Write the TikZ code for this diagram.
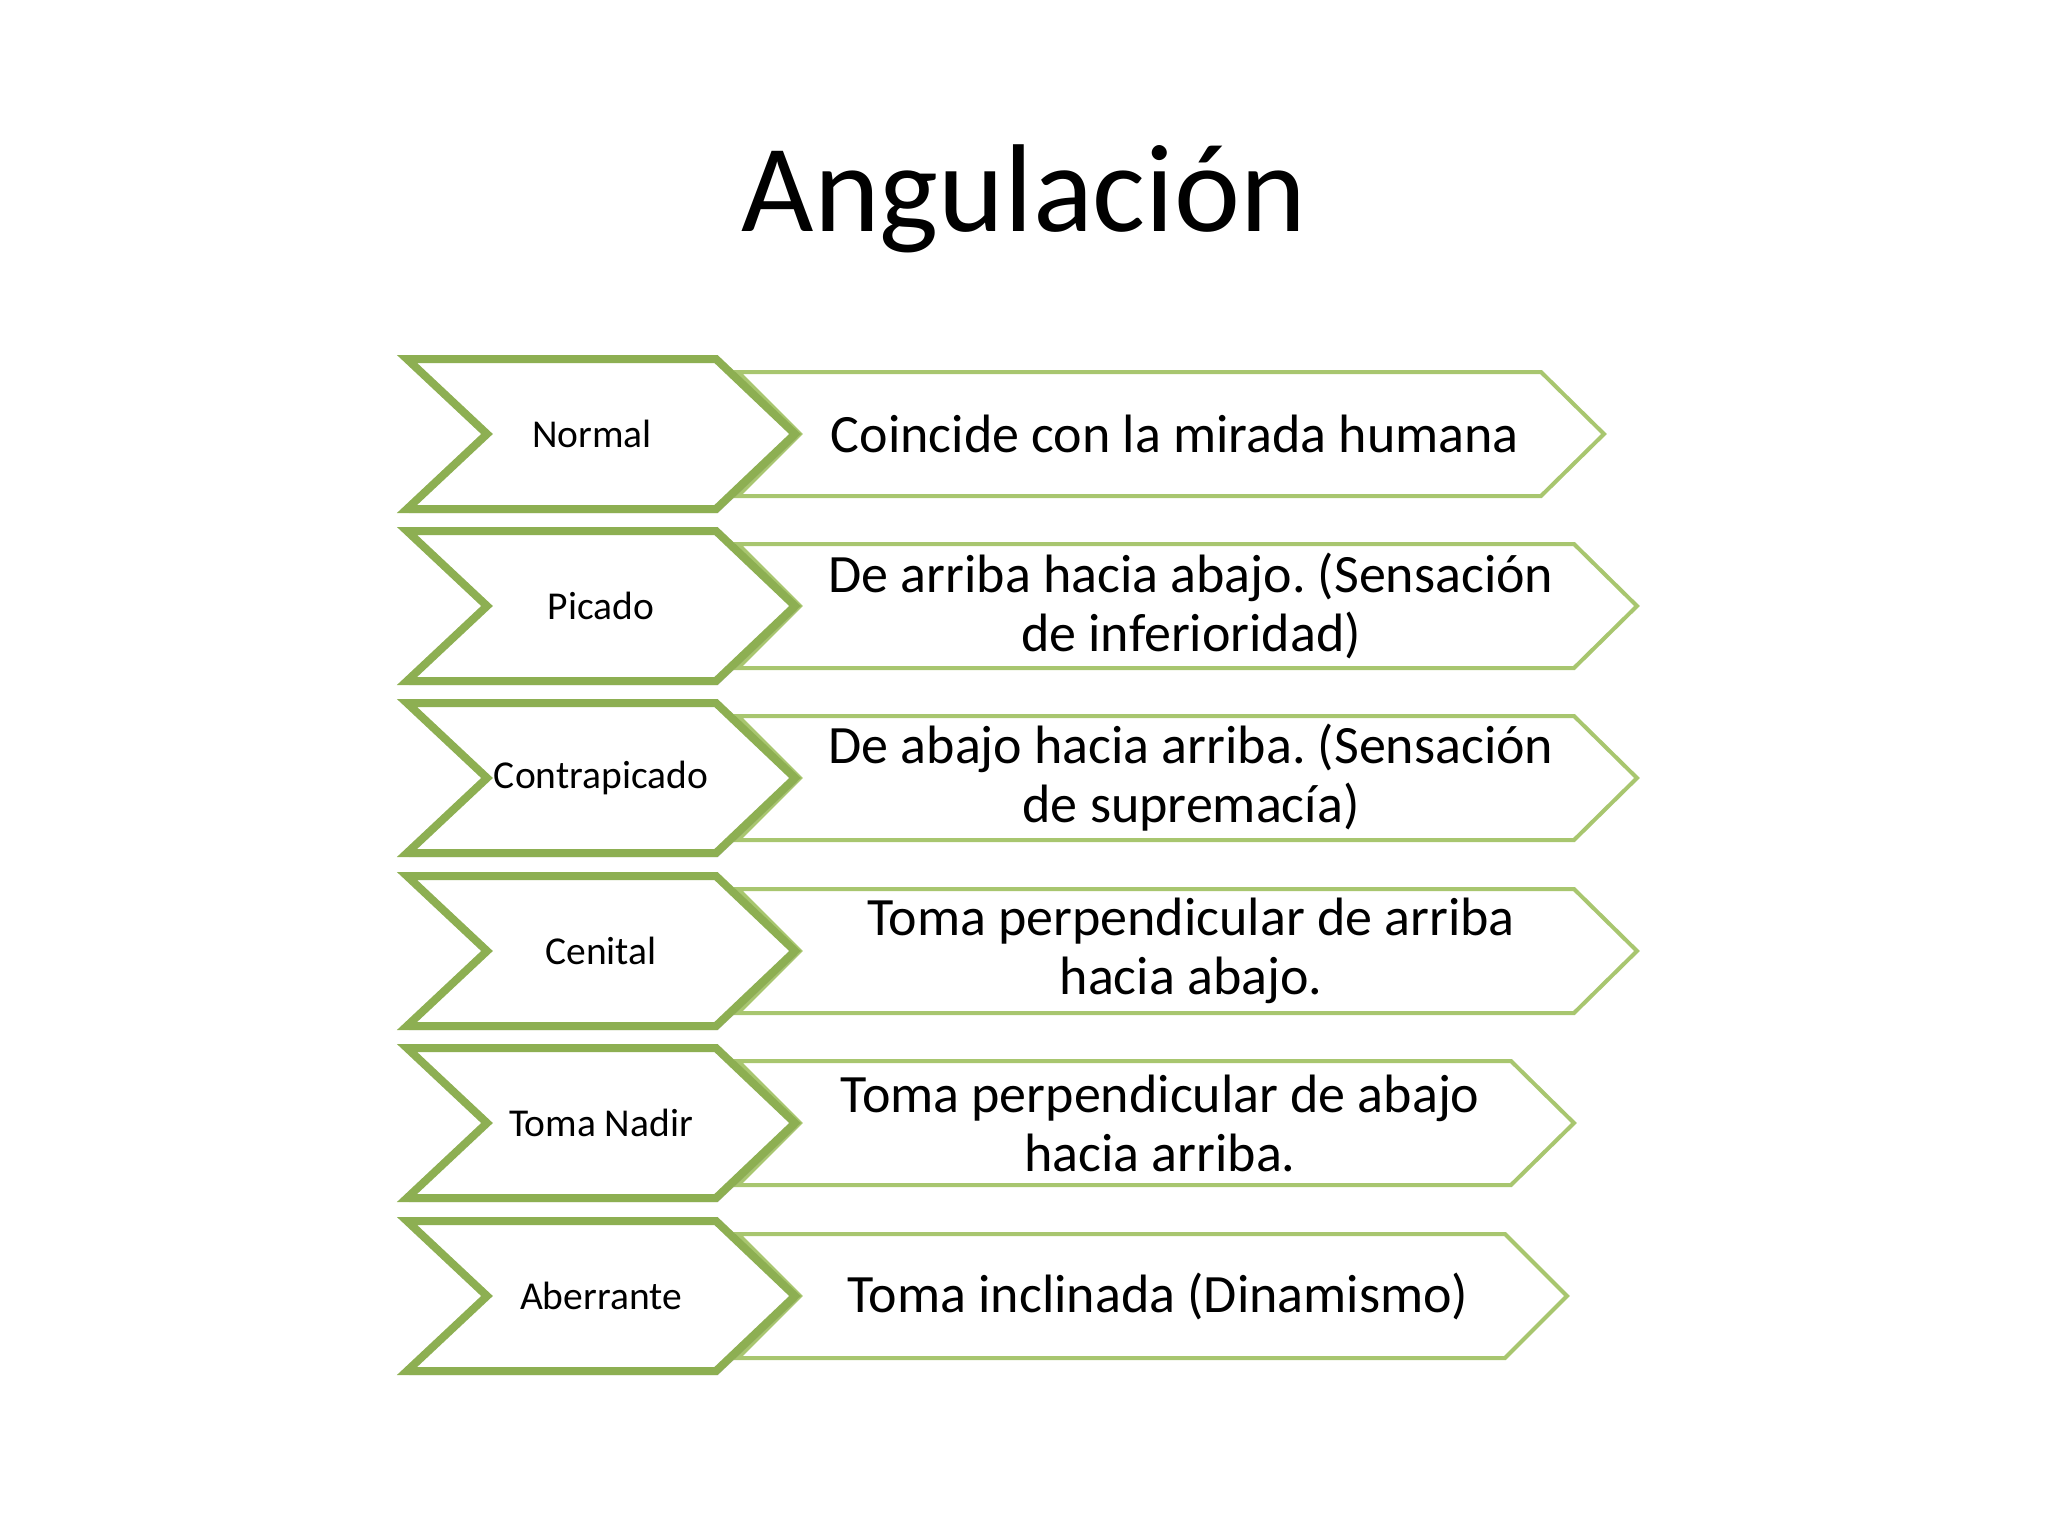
\documentclass[tikz,border=0pt]{standalone}
\usepackage{fontspec}
\setmainfont{Carlito}
\frenchspacing
\usetikzlibrary{shadows}
\definecolor{chevgreen}{HTML}{8DAF52}
\definecolor{boxgreen}{HTML}{A8C66F}
\begin{document}
\begin{tikzpicture}[x=1pt,y=-1pt,
  leftchev/.style={draw=chevgreen, line width=8pt, fill=white,
    drop shadow={opacity=0.35, shadow xshift=2pt, shadow yshift=-4pt}},
  rightchev/.style={draw=boxgreen, line width=4pt, fill=white},
  lbl/.style={font=\fontsize{39.5}{46}\selectfont},
  txt/.style={font=\fontsize{54}{59}\selectfont, align=center}]
\useasboundingbox (0,0) rectangle (2048,1536);
\node[font=\fontsize{125}{132}\selectfont, anchor=base] (title) at (1024,231) {Angulación};
% right boxes first, the chevrons go over them
\draw[rightchev] (738,372) -- (1541,372) -- (1604,434) -- (1541,496) -- (738,496) -- (800,434) -- cycle;
\draw[rightchev] (738,544) -- (1574,544) -- (1637,606) -- (1574,668) -- (738,668) -- (800,606) -- cycle;
\draw[rightchev] (738,716) -- (1574,716) -- (1637,778) -- (1574,840) -- (738,840) -- (800,778) -- cycle;
\draw[rightchev] (738,889) -- (1574,889) -- (1637,951) -- (1574,1013) -- (738,1013) -- (800,951) -- cycle;
\draw[rightchev] (738,1061) -- (1511,1061) -- (1574,1123) -- (1511,1185) -- (738,1185) -- (800,1123) -- cycle;
\draw[rightchev] (738,1234) -- (1505,1234) -- (1567,1296) -- (1505,1358) -- (738,1358) -- (800,1296) -- cycle;
% left chevrons
\draw[leftchev] (407,359) -- (716,359) -- (795,434) -- (716,509) -- (407,509) -- (487,434) -- cycle;
\draw[leftchev] (407,531) -- (716,531) -- (795,606) -- (716,681) -- (407,681) -- (487,606) -- cycle;
\draw[leftchev] (407,703) -- (716,703) -- (795,778) -- (716,853) -- (407,853) -- (487,778) -- cycle;
\draw[leftchev] (407,876) -- (716,876) -- (795,951) -- (716,1026) -- (407,1026) -- (487,951) -- cycle;
\draw[leftchev] (407,1048) -- (716,1048) -- (795,1123) -- (716,1198) -- (407,1198) -- (487,1123) -- cycle;
\draw[leftchev] (407,1221) -- (716,1221) -- (795,1296) -- (716,1371) -- (407,1371) -- (487,1296) -- cycle;
% labels
\node[lbl] (normal) at (592,434) {Normal};
\node[lbl] (picado) at (601,606) {Picado};
\node[lbl] (contra) at (601,778) {Contrapicado};
\node[lbl] (cenital) at (601,951) {Cenital};
\node[lbl] (nadir) at (601,1123) {Toma Nadir};
\node[lbl] (aberr) at (601,1296) {Aberrante};
\node[txt] (tnormal) at (1175,434) {Coincide con la mirada humana};
\node[txt] (tpicado) at (1191,606) {De arriba hacia abajo. (Sensación\\de inferioridad)};
\node[txt] (tcontra) at (1191,778) {De abajo hacia arriba. (Sensación\\de supremacía)};
\node[txt] (tcenital) at (1191,951) {Toma perpendicular de arriba\\hacia abajo.};
\node[txt] (tnadir) at (1160,1123) {Toma perpendicular de abajo\\hacia arriba.};
\node[txt] (taberr) at (1158,1296) {Toma inclinada (Dinamismo)};
\end{tikzpicture}
\end{document}
